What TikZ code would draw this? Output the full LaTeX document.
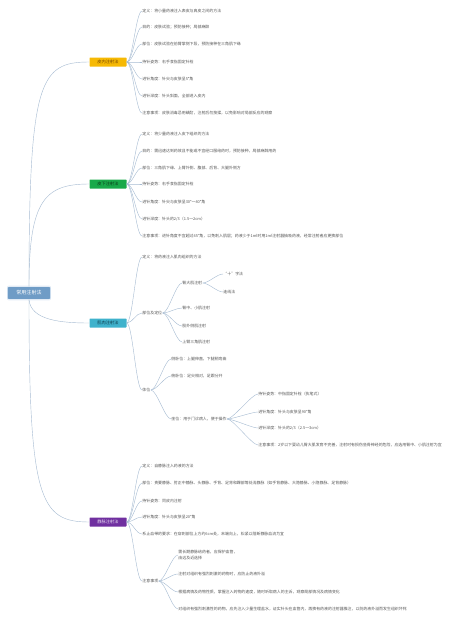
\documentclass[tikz,border=0pt]{standalone}
\usepackage{fontspec}
\setmainfont{Noto Sans CJK SC}
\usepackage{xcolor}
\usepackage{tikz}
\usetikzlibrary{positioning}
\definecolor{rootblue}{RGB}{111,156,198}
\definecolor{rootedge}{RGB}{172,200,228}
\definecolor{amberbox}{RGB}{246,185,4}
\definecolor{ambertext}{RGB}{120,70,0}
\definecolor{greenbox}{RGB}{25,169,74}
\definecolor{greentext}{RGB}{10,60,25}
\definecolor{tealbox}{RGB}{63,178,204}
\definecolor{tealtext}{RGB}{14,62,78}
\definecolor{purplebox}{RGB}{112,48,160}
\definecolor{purpletext}{RGB}{232,222,242}
\definecolor{linkblue}{RGB}{167,188,210}
\definecolor{leafgray}{RGB}{85,85,85}

\begin{document}
\begin{tikzpicture}[x=0.05cm, y=-0.05cm, font=\fontsize{5.6}{6.8}\selectfont,
    root/.style={rectangle, rounded corners=1.5pt, draw=rootedge, double=white,
      double distance=0.5pt, fill=rootblue, text=white, minimum width=2.15cm,
      minimum height=0.66cm, font=\fontsize{7.2}{8.6}\selectfont},
    branch/.style={rectangle, rounded corners=1pt, minimum width=1.85cm,
      minimum height=0.45cm, inner sep=0pt, font=\fontsize{6}{7}\selectfont},
    leaf/.style={anchor=west, inner sep=0.5pt, text=leafgray},
    link/.style={draw=linkblue, line width=0.6pt}]
  \useasboundingbox (0,0) rectangle (474,619);

  % centre
  \node[root] (root) at (29,293) {常用注射法};

  % four main branches
  \node[branch, fill=amberbox, text=ambertext] (piNei) at (108,62) {皮内注射法};
  \node[branch, fill=greenbox, text=greentext] (piXia) at (108,184) {皮下注射法};
  \node[branch, fill=tealbox, text=tealtext] (jiRou) at (108,323) {肌肉注射法};
  \node[branch, fill=purplebox, text=purpletext] (jingMai) at (108,522) {静脉注射法};

  \draw[link] (root.north) .. controls (29,80) and (40,62) .. (piNei.west);
  \draw[link] (root.north) .. controls (29,200) and (45,184) .. (piXia.west);
  \draw[link] (root.south) .. controls (31,320) and (60,323) .. (jiRou.west);
  \draw[link] (root.south) .. controls (29,500) and (40,522) .. (jingMai.west);

  % intradermal
  \node[leaf] (pn1) at (142,11) {定义：将小量药液注入表皮与真皮之间的方法};
  \node[leaf] (pn2) at (142,27) {目的：皮肤试验；预防接种；局部麻醉};
  \node[leaf] (pn3) at (142,44) {部位：皮肤试验在前臂掌侧下段，预防接种在三角肌下缘};
  \node[leaf] (pn4) at (142,62) {持针姿势：右手食指固定针栓};
  \node[leaf] (pn5) at (142,79) {进针角度：针尖与皮肤呈5°角};
  \node[leaf] (pn6) at (142,96) {进针深度：针头斜面，全部进入皮内};
  \node[leaf] (pn7) at (142,113) {注意事项：皮肤消毒忌用碘酊，注射后勿按揉，以免影响对局部反应的观察};
  \draw[link] (piNei.east) .. controls +(6,0) and +(-6,0) .. (pn1.west);
  \draw[link] (piNei.east) .. controls +(6,0) and +(-6,0) .. (pn2.west);
  \draw[link] (piNei.east) .. controls +(6,0) and +(-6,0) .. (pn3.west);
  \draw[link] (piNei.east) .. controls +(6,0) and +(-6,0) .. (pn4.west);
  \draw[link] (piNei.east) .. controls +(6,0) and +(-6,0) .. (pn5.west);
  \draw[link] (piNei.east) .. controls +(6,0) and +(-6,0) .. (pn6.west);
  \draw[link] (piNei.east) .. controls +(6,0) and +(-6,0) .. (pn7.west);

  % subcutaneous
  \node[leaf] (px1) at (142,134) {定义：将少量药液注入皮下组织的方法};
  \node[leaf] (px2) at (142,151) {目的：需迅速达到药效且不能或不宜经口服给药时，预防接种，局部麻醉用药};
  \node[leaf] (px3) at (142,168) {部位：三角肌下缘、上臂外侧、腹部、后背、大腿外侧方};
  \node[leaf] (px4) at (142,184) {持针姿势：右手食指固定针栓};
  \node[leaf] (px5) at (142,202) {进针角度：针尖与皮肤呈30°～40°角};
  \node[leaf] (px6) at (142,219) {进针深度：针头的2/3（1.5～2cm）};
  \node[leaf] (px7) at (142,236) {注意事项：进针角度不宜超过45°角，以免刺入肌层；药液少于1ml时用1ml注射器抽吸药液，经常注射者应更换部位};
  \draw[link] (piXia.east) .. controls +(6,0) and +(-6,0) .. (px1.west);
  \draw[link] (piXia.east) .. controls +(6,0) and +(-6,0) .. (px2.west);
  \draw[link] (piXia.east) .. controls +(6,0) and +(-6,0) .. (px3.west);
  \draw[link] (piXia.east) .. controls +(6,0) and +(-6,0) .. (px4.west);
  \draw[link] (piXia.east) .. controls +(6,0) and +(-6,0) .. (px5.west);
  \draw[link] (piXia.east) .. controls +(6,0) and +(-6,0) .. (px6.west);
  \draw[link] (piXia.east) .. controls +(6,0) and +(-6,0) .. (px7.west);

  % intramuscular
  \node[leaf] (jr1) at (142,257) {定义：将药液注入肌肉组织的方法};
  \node[leaf] (jrPos) at (142,313) {部位及定位};
  \node[leaf] (jrPos1) at (182,283) {臀大肌注射};
  \node[leaf] (jrCross) at (223,274) {“十”字法};
  \node[leaf] (jrLine) at (223,292) {连线法};
  \node[leaf] (jrPos2) at (182,308) {臀中、小肌注射};
  \node[leaf] (jrPos3) at (182,326) {股外侧肌注射};
  \node[leaf] (jrPos4) at (182,342) {上臂三角肌注射};
  \node[leaf] (jrBody) at (142,390) {体位};
  \node[leaf] (jrSide) at (171,359) {侧卧位：上腿伸直，下腿稍弯曲};
  \node[leaf] (jrProne) at (171,376) {俯卧位：足尖相对，足跟分开};
  \node[leaf] (jrSit) at (171,419) {坐位：用于门诊病人，便于操作};
  \node[leaf] (jrs1) at (258,394) {持针姿势：中指固定针栓（执笔式）};
  \node[leaf] (jrs2) at (258,412) {进针角度：针头与皮肤呈90°角};
  \node[leaf] (jrs3) at (258,428) {进针深度：针头的2/3（2.5～3cm）};
  \node[leaf] (jrs4) at (258,445) {注意事项：2岁以下婴幼儿臀大肌发育不完善，注射时有损伤坐骨神经的危险，应选用臀中、小肌注射为宜};
  \draw[link] (jiRou.east) .. controls +(6,0) and +(-6,0) .. (jr1.west);
  \draw[link] (jiRou.east) .. controls +(6,0) and +(-6,0) .. (jrPos.west);
  \draw[link] (jiRou.east) .. controls +(6,0) and +(-6,0) .. (jrBody.west);
  \draw[link] (jrPos.east) .. controls +(6,0) and +(-6,0) .. (jrPos1.west);
  \draw[link] (jrPos.east) .. controls +(6,0) and +(-6,0) .. (jrPos2.west);
  \draw[link] (jrPos.east) .. controls +(6,0) and +(-6,0) .. (jrPos3.west);
  \draw[link] (jrPos.east) .. controls +(6,0) and +(-6,0) .. (jrPos4.west);
  \draw[link] (jrPos1.east) .. controls +(6,0) and +(-6,0) .. (jrCross.west);
  \draw[link] (jrPos1.east) .. controls +(6,0) and +(-6,0) .. (jrLine.west);
  \draw[link] (jrBody.east) .. controls +(6,0) and +(-6,0) .. (jrSide.west);
  \draw[link] (jrBody.east) .. controls +(6,0) and +(-6,0) .. (jrProne.west);
  \draw[link] (jrBody.east) .. controls +(6,0) and +(-6,0) .. (jrSit.west);
  \draw[link] (jrSit.east) .. controls +(6,0) and +(-6,0) .. (jrs1.west);
  \draw[link] (jrSit.east) .. controls +(6,0) and +(-6,0) .. (jrs2.west);
  \draw[link] (jrSit.east) .. controls +(6,0) and +(-6,0) .. (jrs3.west);
  \draw[link] (jrSit.east) .. controls +(6,0) and +(-6,0) .. (jrs4.west);

  % intravenous
  \node[leaf] (jm1) at (142,466) {定义：自静脉注入药液的方法};
  \node[leaf] (jm2) at (142,483) {部位：贵要静脉、肘正中静脉、头静脉、手背、足背和踝部等处浅静脉（如手背静脉、大隐静脉、小隐静脉、足背静脉）};
  \node[leaf] (jm3) at (142,501) {持针姿势：同皮内注射};
  \node[leaf] (jm4) at (142,517) {进针角度：针头与皮肤呈20°角};
  \node[leaf] (jm5) at (142,534) {系止血带的要求：在穿刺部位上方约6cm处，末端向上，松紧以阻断静脉血流为宜};
  \node[leaf] (jmNote) at (142,581) {注意事项};
  \node[leaf, align=left, font=\fontsize{5.6}{8}\selectfont] (jmn1) at (178,555)
    {需长期静脉给药者，应保护血管，\\由远及近选择};
  \node[leaf] (jmn2) at (178,574) {注射对组织有强烈刺激的药物时，应防止药液外溢};
  \node[leaf] (jmn3) at (178,592) {根据病情及药物性质，掌握注入药物的速度，随时听取病人的主诉，观察局部情况及病情变化};
  \node[leaf] (jmn4) at (178,609) {对组织有强烈刺激性的药物，应先注入少量生理盐水，证实针头在血管内，再换有药液的注射器推注，以防药液外溢而发生组织坏死};
  \draw[link] (jingMai.east) .. controls +(6,0) and +(-6,0) .. (jm1.west);
  \draw[link] (jingMai.east) .. controls +(6,0) and +(-6,0) .. (jm2.west);
  \draw[link] (jingMai.east) .. controls +(6,0) and +(-6,0) .. (jm3.west);
  \draw[link] (jingMai.east) .. controls +(6,0) and +(-6,0) .. (jm4.west);
  \draw[link] (jingMai.east) .. controls +(6,0) and +(-6,0) .. (jm5.west);
  \draw[link] (jingMai.east) .. controls +(6,0) and +(-6,0) .. (jmNote.west);
  \draw[link] (jmNote.east) .. controls +(6,0) and +(-6,0) .. (jmn1.west);
  \draw[link] (jmNote.east) .. controls +(6,0) and +(-6,0) .. (jmn2.west);
  \draw[link] (jmNote.east) .. controls +(6,0) and +(-6,0) .. (jmn3.west);
  \draw[link] (jmNote.east) .. controls +(6,0) and +(-6,0) .. (jmn4.west);
\end{tikzpicture}
\end{document}
